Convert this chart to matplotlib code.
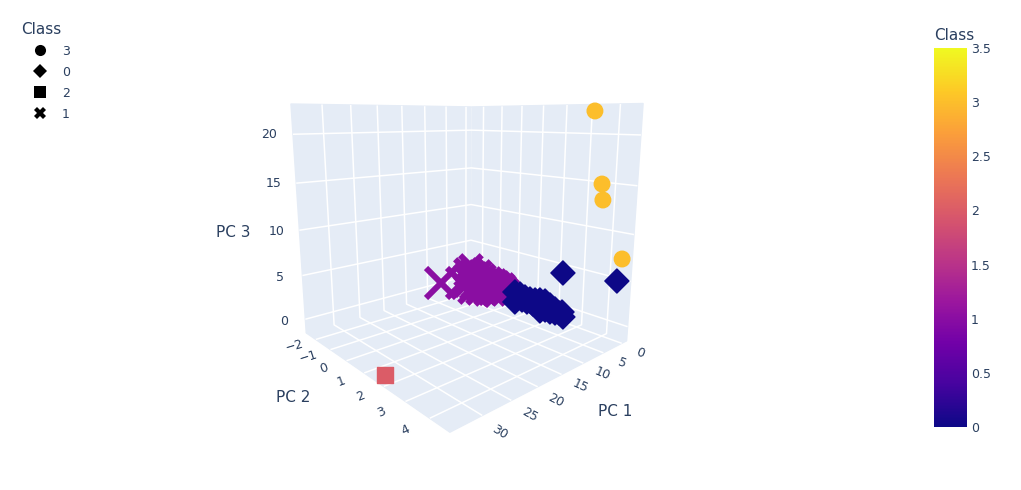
import matplotlib
matplotlib.use('Agg')
import matplotlib.pyplot as plt
from matplotlib.colors import LinearSegmentedColormap
from matplotlib.lines import Line2D

# class 3
pc1_c3 = [3, 1.5, 2, 1]
pc2_c3 = [3.72, 3.90, 4.03, 4.69]
pc3_c3 = [22.30, 15.07, 13.52, 7.68]

# class 0
pc1_c0 = [2.24, 2.99, 1.82, 5.35, 6.04, 3.75, 6.07, 3.75, 2.36, 2.87, 2.72, 2.08, 2.70, 3.53, 4.46, 4.40, 4.50, 4.47, 5.05, 5.12, 5.20, 4.94, 3.32]
pc2_c0 = [0.53, 1.40, 1.89, 3.23, 1.25, 1.54, 2.39, 2.94, 0.81, 1.14, 1.59, 1.70, 2.26, 2.61, 2.93, 1.28, 1.53, 1.80, 2.08, 2.45, 2.67, 2.84, 2.14]
pc3_c0 = [0.8] * 23
pc1_c0_out = [2, 1]
pc2_c0_out = [2.64, 4.56]
pc3_c0_out = [4.79, 5.25]

# class 2
pc1_c2 = [34.1]
pc2_c2 = [1.78]
pc3_c2 = [-1.0]

# class 1, the front group draws larger than the back ones
pc1_c1 = [8.11, 5.08, 3.09, 3.47, 3.03, 2.59, 2.97, 2.95, 3.71, 3.13, 2.35]
pc2_c1 = [-2.32, -1.77, -1.75, -1.31, -1.06, -0.82, -0.41, -0.10, -0.86, -0.60, -1.44]
pc3_c1 = [0.5] * 11
pc1_c1_top = [4.45, 6.51, 7.22, 5.84, 6.97, 7.39, 7.54, 7.93, 8.07, 8.70, 9.87, 8.83, 9.21, 6.91, 8.97]
pc2_c1_top = [-1.39, -0.87, -0.49, -0.58, -0.12, 0.28, 0.56, 0.79, 1.06, -0.60, -0.01, 0.17, 0.56, -1.12, -0.64]
pc3_c1_top = [3.0] * 15
pc1_c1_low = [2.43, 7.46, 6.74, 6.02, 4.94, 3.47, 1.57]
pc2_c1_low = [-0.47, -0.76, -0.48, -0.21, -0.01, 0.11, 0.0]
pc3_c1_low = [0.5] * 7

x_ticks = [0, 5, 10, 15, 20, 25, 30]
y_ticks = [-2, -1, 0, 1, 2, 3, 4]
z_ticks = [0, 5, 10, 15, 20]
cb_ticks = [0, 0.5, 1, 1.5, 2, 2.5, 3, 3.5]
cb_labels = ['0', '0.5', '1', '1.5', '2', '2.5', '3', '3.5']
legend_labels = ['3', '0', '2', '1']

plasma = ["#0d0887", "#46039f", "#7201a8", "#9c179e", "#bd3786", "#d8576b", "#ed7953", "#fb9f3a", "#fdca26", "#f0f921"]
cmap = LinearSegmentedColormap.from_list('plasma_px', plasma)
ink = '#2a3f5f'
W, H = 1021, 490
xl = (-1.4, 35.0)
yl = (-2.7, 4.75)
zl = (-1.6, 23.0)

fig = plt.figure(figsize=(10.21, 4.9), dpi=100)
ax = fig.add_axes([258.4/W, 59.1/H, 399.5/W, 399.5/H], projection='3d')
ax.set_xlim(*xl, view_margin=0)
ax.set_ylim(*yl, view_margin=0)
ax.set_zlim(*zl, view_margin=0)
ax.set_box_aspect((1, 1, 1))
ax.view_init(11.9, 48.4)
ax.set_proj_type('persp', focal_length=0.24)
ax.patch.set_alpha(0)
ax.computed_zorder = False

for axis in (ax.xaxis, ax.yaxis, ax.zaxis):
    axis.set_pane_color('#E5ECF6')
    axis.pane.set_edgecolor('#E5ECF6')
    axis.line.set_color((1, 1, 1, 0))
    axis._axinfo['grid'].update(color='white', linewidth=1.1)
    axis._axinfo['tick'].update(inward_factor=0, outward_factor=0)

ax.set_xticks(x_ticks)
ax.set_yticks(y_ticks)
ax.set_zticks(z_ticks)
for axis in (ax.xaxis, ax.yaxis, ax.zaxis):
    axis.set_tick_params(label1On=False, label2On=False)

# tick labels follow the floor edges, so they are placed by hand
for t in x_ticks:
    ax.text(t + 0.8, yl[1] + 0.75, zl[0], str(t), (0, 1, 0), fontsize=9, color=ink, ha='center', va='center')
for t in y_ticks:
    ax.text(xl[1] + 3.5, t, zl[0], str(t).replace('-', '\u2212'), (1, 0, 0), fontsize=9, color=ink, ha='center', va='center')
for t in z_ticks:
    ax.text(xl[1] + 3, yl[0] - 0.3, t, str(t), fontsize=9, color=ink, ha='center', va='center')

def points(xs, ys, zs, cls, marker, size, order, lw=None):
    return ax.scatter(xs, ys, zs, c=[cls] * len(xs), vmin=0, vmax=3.5, cmap=cmap, marker=marker, s=size,
                      depthshade=False, zorder=order, linewidths=lw)

points(pc1_c2, pc2_c2, pc3_c2, 2, 's', 132, 3)
points(pc1_c1, pc2_c1, pc3_c1, 1, 'x', 467, 4, 4.3)
points(pc1_c1_top, pc2_c1_top, pc3_c1_top, 1, 'x', 240, 4, 4.3)
points(pc1_c1_low, pc2_c1_low, pc3_c1_low, 1, 'x', 240, 4, 4.3)
points(pc1_c0, pc2_c0, pc3_c0, 0, 'D', 150, 5)
points(pc1_c0_out, pc2_c0_out, pc3_c0_out, 0, 'D', 150, 6)
art = points(pc1_c3, pc2_c3, pc3_c3, 3, 'o', 125, 7)

cax = fig.add_axes([934/W, (H-427)/H, 33/W, 379/H])
cb = fig.colorbar(art, cax=cax, ticks=cb_ticks)
cb.set_ticklabels(cb_labels)
cb.outline.set_visible(False)
cax.tick_params(length=0, labelsize=9, labelcolor=ink, pad=3)
cax.set_title('Class', loc='left', fontsize=11, color=ink, pad=6)

handles = [Line2D([], [], ls='', color='k', marker=m, ms=ms, mew=0) for m, ms in [('o', 8), ('D', 7), ('s', 8), ('X', 9)]]
leg = fig.legend(handles, legend_labels, title='Class', loc='upper left', bbox_to_anchor=(16/W, 1-17/H), frameon=False,
                 fontsize=9, title_fontsize=11, labelspacing=0.63, handlelength=3.04, handletextpad=0.25,
                 labelcolor=ink, alignment='left', borderaxespad=0)
leg.get_title().set_color(ink)

fig.text(615/W, 1-411/H, 'PC 1', fontsize=11, color=ink, ha='center', va='center')
fig.text(293/W, 1-398/H, 'PC 2', fontsize=11, color=ink, ha='center', va='center')
fig.text(233/W, 1-232/H, 'PC 3', fontsize=11, color=ink, ha='center', va='center')

fig.savefig('out.png', dpi=100)
